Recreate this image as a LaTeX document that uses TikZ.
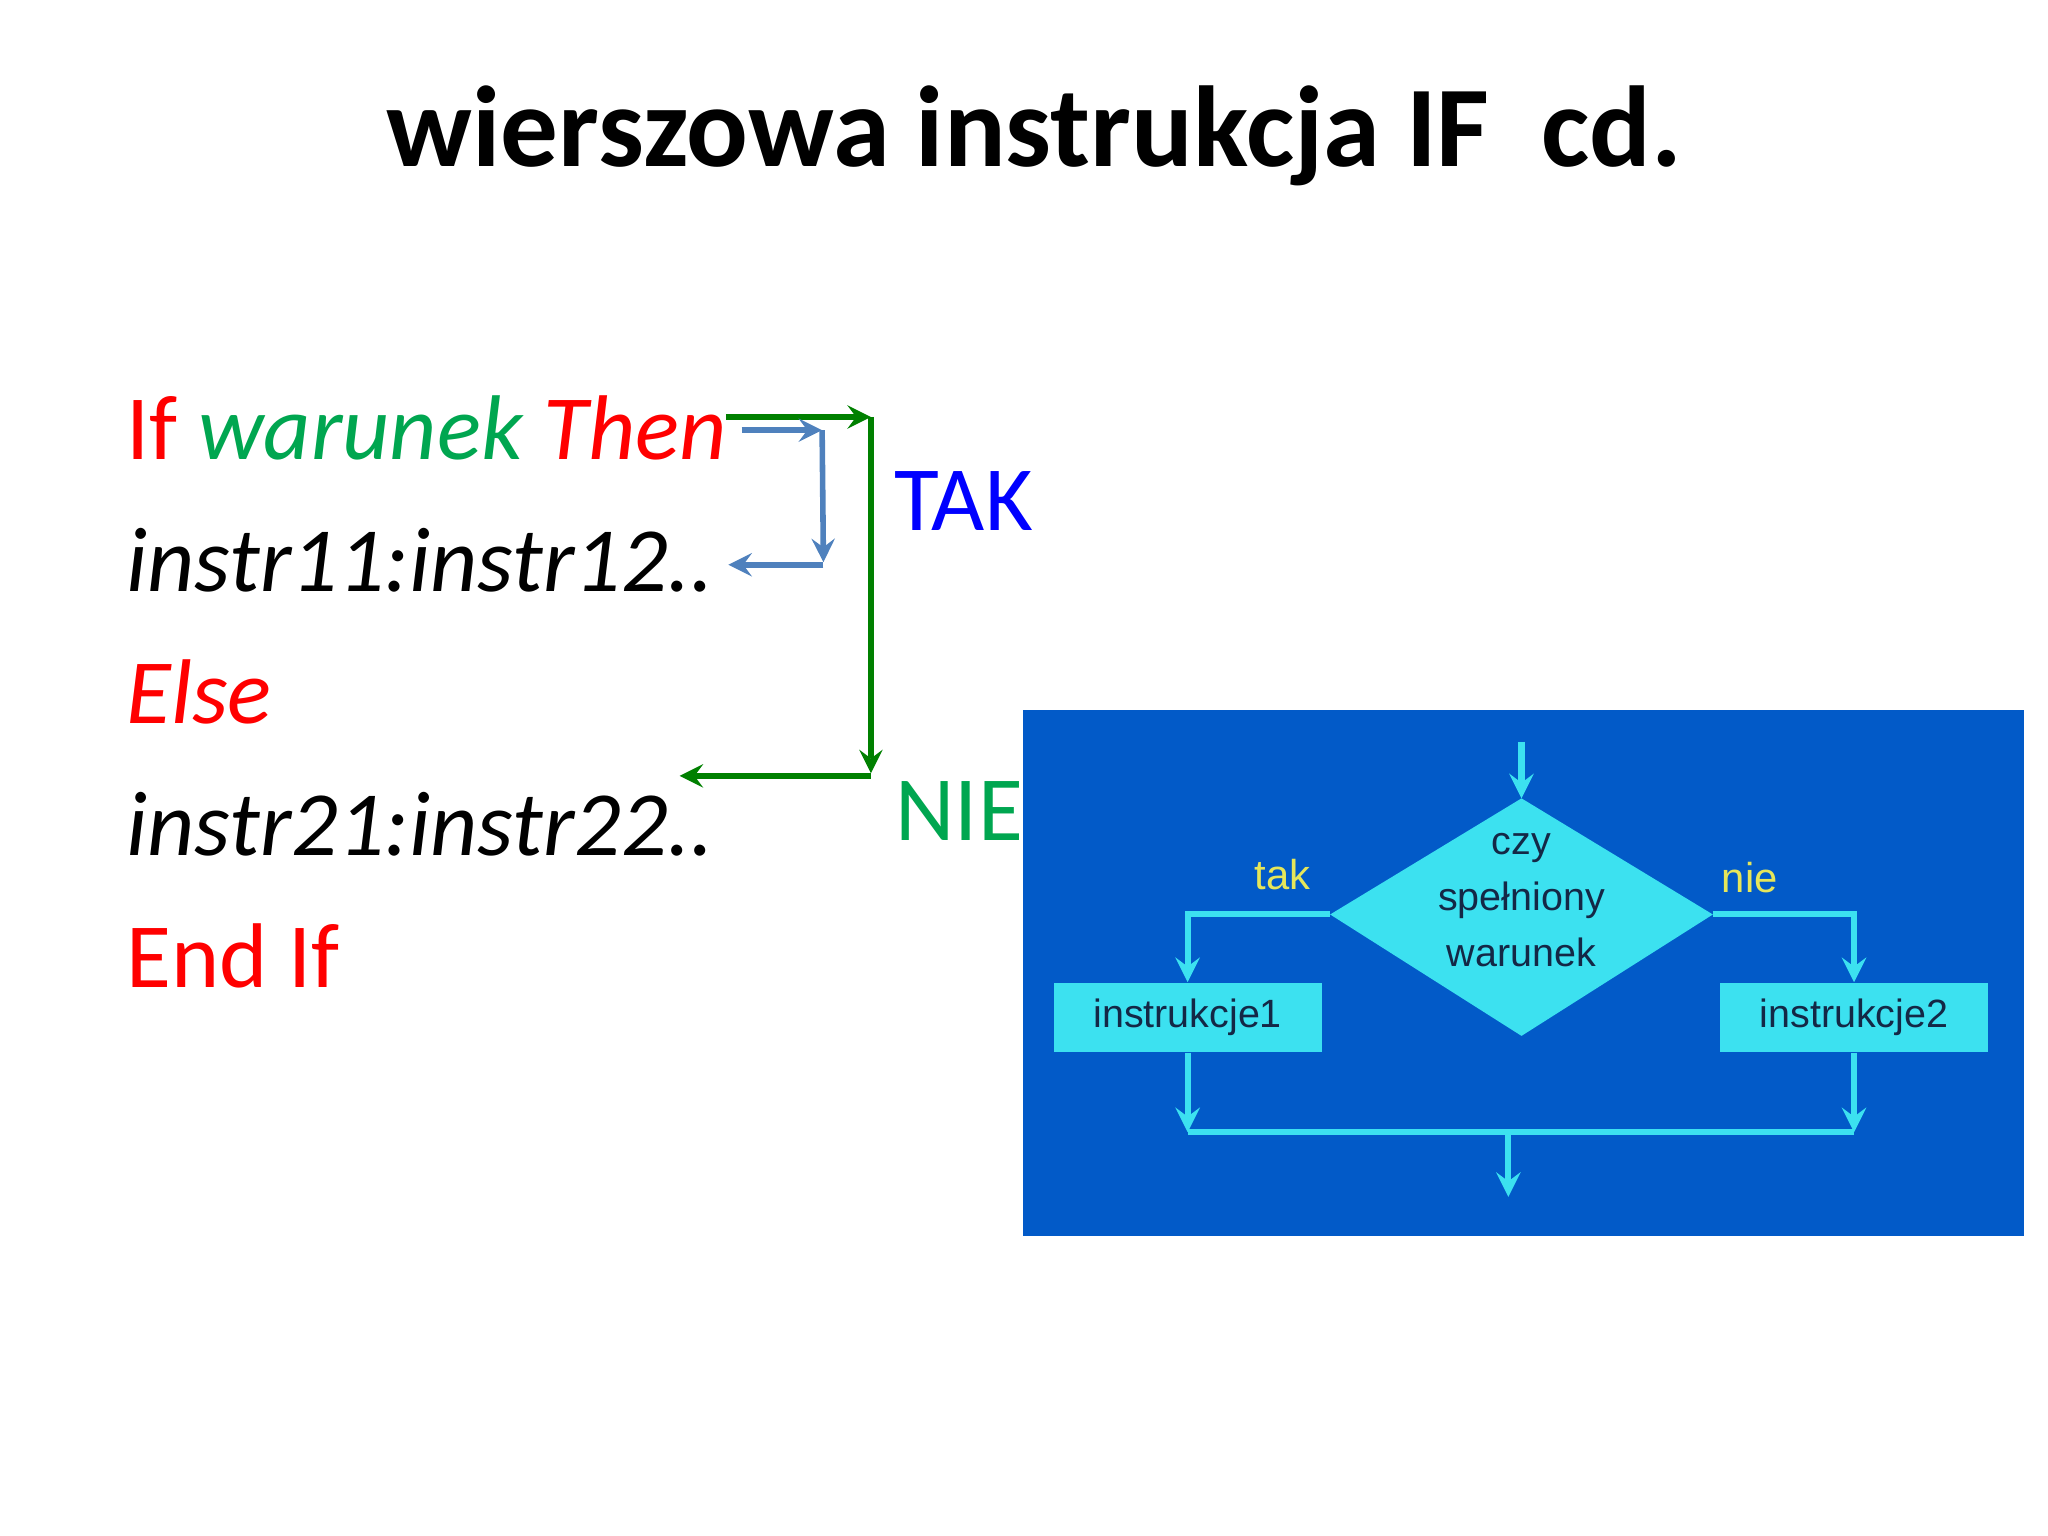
\documentclass[tikz,border=0pt]{standalone}
\usepackage{fontspec}
\setmainfont{Carlito}
\newfontfamily\fcsans{Liberation Sans}
\begin{document}
\begin{tikzpicture}[x=0.01cm,y=-0.01cm,
  code/.style={anchor=base west,inner sep=0,font=\fontsize{19.8}{20}\selectfont},
  garr/.style={draw=green!50!black,line width=1.2pt,->,>=stealth},
  barr/.style={color={rgb,255:red,79;green,129;blue,189},line width=1.2pt,->,>=stealth},
  fc/.style={draw={rgb,255:red,60;green,225;blue,240},line width=1.3pt},
  fca/.style={fc,->,>=stealth},
  box/.style={fill={rgb,255:red,60;green,225;blue,240},draw=none,minimum width=2.03cm,minimum height=0.52cm,font=\fcsans\fontsize{8.5}{8.5}\selectfont,text={rgb,255:red,20;green,40;blue,70}}]
\useasboundingbox (0,0) rectangle (1552,1164);
\node[font=\bfseries\fontsize{24.8}{25}\selectfont,anchor=base] (title) at (784,126) {wierszowa instrukcja IF\ \ cd.};
\definecolor{cgreen}{RGB}{0,166,80}
\node[code] (l1) at (95,348) {\textcolor{red}{If} \textcolor{cgreen}{\itshape warunek} \textcolor{red}{\itshape Then}};
\node[code] (l2) at (95,448) {\itshape instr11:instr12..};
\node[code,text=red] (l3) at (95,548) {\itshape Else};
\node[code] (l4) at (95,648) {\itshape instr21:instr22..};
\node[code,text=red] (l5) at (95,748) {End If};
\node[code,text=blue] (tak) at (677,402) {TAK};
\node[code,text=cgreen] (nie) at (678,637) {NIE};
\coordinate (g1) at (550,316); \coordinate (g2) at (660,316);
\coordinate (g3) at (660,586); \coordinate (g4) at (660,588); \coordinate (g5) at (515,588);
\draw[garr] (g1) -- (g2);
\draw[garr] (g2) -- (g3);
\draw[garr] (g4) -- (g5);
\coordinate (b1) at (562,326); \coordinate (b2) at (623,326);
\coordinate (b3) at (624,426); \coordinate (b4) at (624,428); \coordinate (b5) at (552,428);
\draw[barr] (b1) -- (b2);
\draw[barr] (b2) -- (b3);
\draw[barr] (b4) -- (b5);
% flowchart
\fill[fill={rgb,255:red,2;green,90;blue,200}] (775,538) rectangle (1534,937);
\coordinate (top) at (1153,562);
\coordinate (dt) at (1153,605); \coordinate (dl) at (1008,693); \coordinate (dr) at (1298,693); \coordinate (db) at (1153,785);
\fill[fill={rgb,255:red,60;green,225;blue,240}] (dt) -- (dr) -- (db) -- (dl) -- cycle;
\node[font=\fcsans\fontsize{8.5}{10}\selectfont,align=center,text={rgb,255:red,20;green,40;blue,70}] (dtext) at (1153,682) {czy\\[2pt]spełniony\\[2pt]warunek};
\draw[fca] (top) -- (dt);
\node[box] (i1) at (900,771) {instrukcje1};
\node[box] (i2) at (1405,771) {instrukcje2};
\node[font=\fcsans\fontsize{9}{9}\selectfont,text={rgb,255:red,230;green,230;blue,90}] (ltak) at (972,663) {tak};
\node[font=\fcsans\fontsize{9}{9}\selectfont,text={rgb,255:red,230;green,230;blue,90}] (lnie) at (1326,665) {nie};
\draw[fca] (dl) -| (i1.north);
\draw[fca] (dr) -| (i2.north);
\coordinate (j1) at (900,858); \coordinate (j2) at (1405,858); \coordinate (j3) at (1143,858); \coordinate (out) at (1143,907);
\draw[fca] (i1.south) -- (j1);
\draw[fca] (i2.south) -- (j2);
\draw[fc] (j1) -- (j2);
\draw[fca] (j3) -- (out);
\end{tikzpicture}
\end{document}
